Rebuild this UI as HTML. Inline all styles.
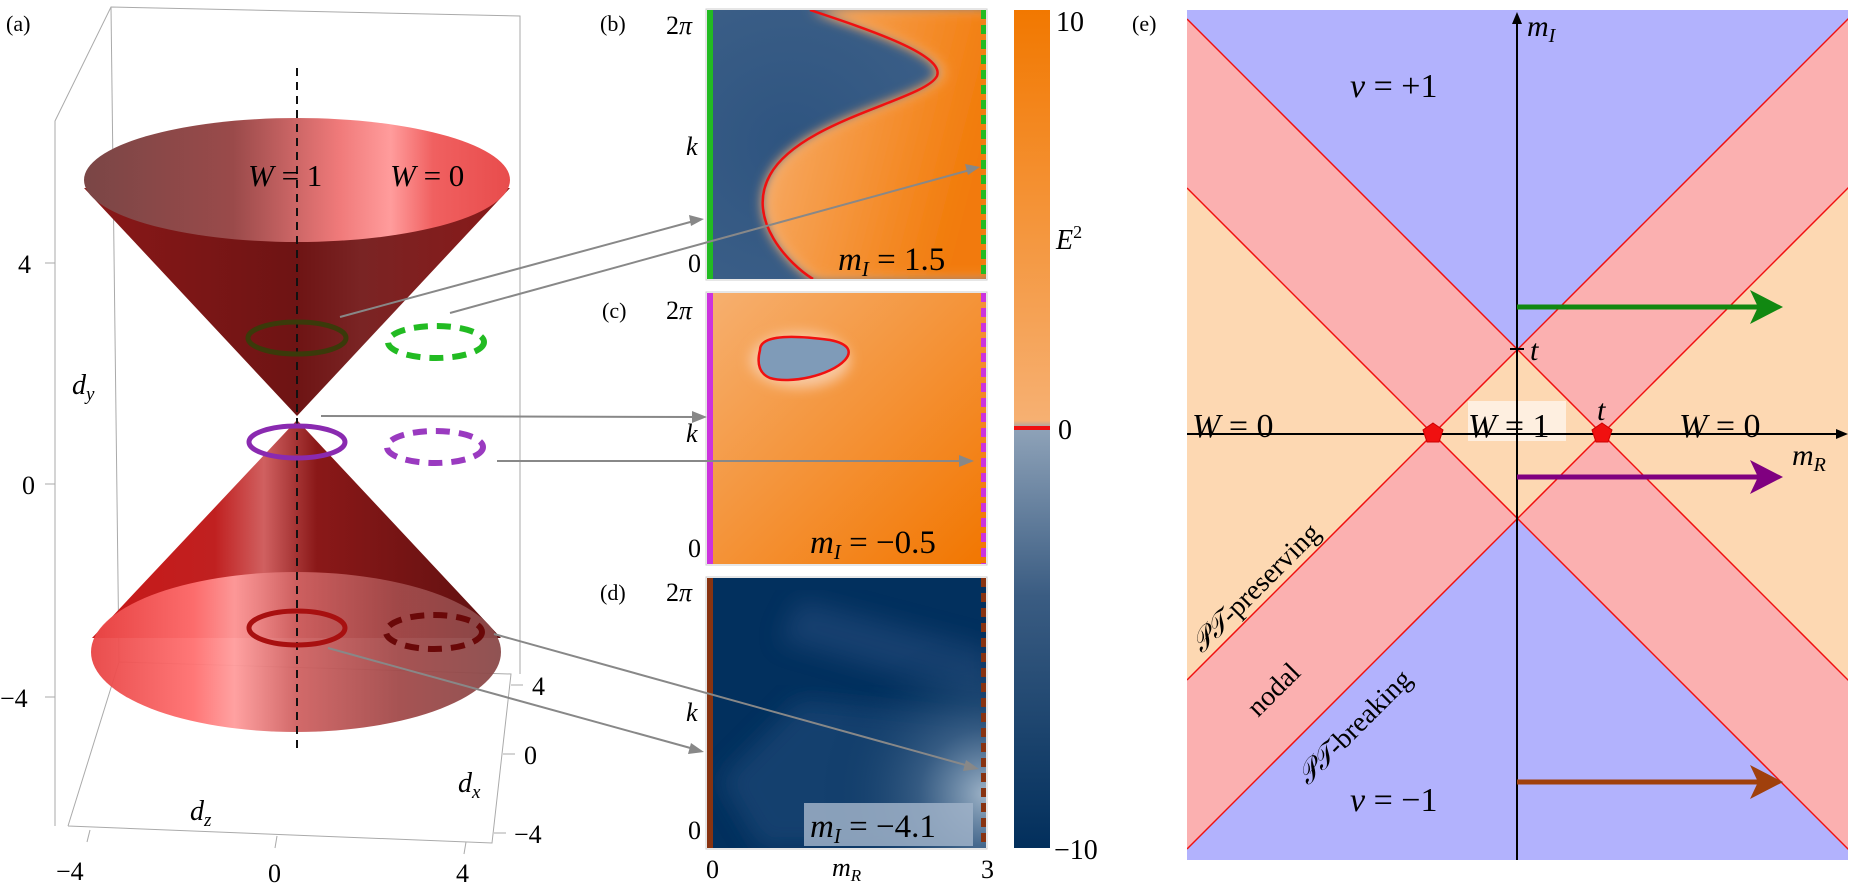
<!DOCTYPE html>
<html><head><meta charset="utf-8"><style>
body{margin:0;background:#fff}
svg{display:block}
text{font-family:"Liberation Serif",serif;fill:#000}
.m{font-style:italic}
</style></head><body>
<svg width="1850" height="884" viewBox="0 0 1850 884" xmlns="http://www.w3.org/2000/svg">
<defs>
<linearGradient id="topdisc" x1="0" x2="1" y1="0" y2="0">
<stop offset="0" stop-color="#7a4646"/><stop offset="0.35" stop-color="#9a4a4a"/><stop offset="0.6" stop-color="#f07a7a"/><stop offset="0.72" stop-color="#ff9c9c"/><stop offset="0.82" stop-color="#f06060"/><stop offset="1" stop-color="#e84c4c"/></linearGradient>
<linearGradient id="topcone" x1="0" x2="1"><stop offset="0" stop-color="#8a1818"/><stop offset="0.5" stop-color="#6e1414"/><stop offset="0.65" stop-color="#7a2424"/><stop offset="1" stop-color="#881818"/></linearGradient>
<linearGradient id="botcone" x1="0" x2="1"><stop offset="0" stop-color="#c81818"/><stop offset="0.3" stop-color="#c02020"/><stop offset="0.42" stop-color="#d06060"/><stop offset="0.55" stop-color="#8a1818"/><stop offset="1" stop-color="#5e1010"/></linearGradient>
<linearGradient id="botdisc" x1="0" x2="1"><stop offset="0" stop-color="#e84444"/><stop offset="0.25" stop-color="#ff7070"/><stop offset="0.35" stop-color="#ff9c9c"/><stop offset="0.5" stop-color="#d06262"/><stop offset="0.75" stop-color="#a24a4a"/><stop offset="1" stop-color="#8a4a4a"/></linearGradient>
<linearGradient id="cbar" x1="0" x2="0" y1="0" y2="1"><stop offset="0" stop-color="#f27800"/><stop offset="0.49" stop-color="#f6b072"/><stop offset="0.5" stop-color="#8ea2b8"/><stop offset="0.7" stop-color="#3a5c82"/><stop offset="1" stop-color="#022f5c"/></linearGradient>
<linearGradient id="orgB" x1="0" x2="1" y1="0" y2="0.3"><stop offset="0" stop-color="#f7b070"/><stop offset="1" stop-color="#f27a08"/></linearGradient>
<linearGradient id="orgC" x1="0" x2="1" y1="0" y2="1"><stop offset="0" stop-color="#f6b070"/><stop offset="1" stop-color="#f27600"/></linearGradient>
<radialGradient id="blueB" cx="0.3" cy="0.5" r="0.7"><stop offset="0" stop-color="#2e5480"/><stop offset="1" stop-color="#3d6088"/></radialGradient>
<radialGradient id="dglow" cx="1" cy="0.8" r="0.6"><stop offset="0" stop-color="#9fb4c8"/><stop offset="0.4" stop-color="#3e6288" stop-opacity="0.8"/><stop offset="1" stop-color="#02305e" stop-opacity="0"/></radialGradient>
<filter id="bl" x="-20%" y="-20%" width="140%" height="140%"><feGaussianBlur stdDeviation="6"/></filter>
<filter id="bl2"><feGaussianBlur stdDeviation="12"/></filter>
<clipPath id="cb"><rect x="707" y="10" width="279" height="269"/></clipPath>
<clipPath id="cc"><rect x="707" y="293" width="279" height="271"/></clipPath>
<clipPath id="cd"><rect x="707" y="578" width="279" height="270"/></clipPath>
<clipPath id="ce"><rect x="1187" y="10" width="661" height="850"/></clipPath>
</defs>

<!-- Panel a box -->
<g stroke="#aaa" stroke-width="1" fill="none">
<polyline points="55,826 55,121 111,7 520,16 520,674"/>
<line x1="111" y1="7" x2="119" y2="662"/>
<polyline points="68,826 119,662 511,674 492,843 68,826"/>
<line x1="55" y1="263" x2="45" y2="263"/><line x1="55" y1="484" x2="45" y2="484"/><line x1="55" y1="697" x2="45" y2="697"/>
<line x1="90" y1="830" x2="87" y2="842"/><line x1="277" y1="836" x2="275" y2="848"/><line x1="466" y1="842" x2="464" y2="854"/>
<line x1="511" y1="685" x2="523" y2="685"/><line x1="503" y1="754" x2="515" y2="754"/><line x1="494" y1="833" x2="506" y2="833"/>
</g>
<text x="6" y="31" font-size="22">(a)</text>
<text x="18" y="273" font-size="26">4</text>
<text x="22" y="494" font-size="26">0</text>
<text x="0" y="707" font-size="26">−4</text>
<text x="56" y="880" font-size="26">−4</text>
<text x="268" y="882" font-size="26">0</text>
<text x="456" y="882" font-size="26">4</text>
<text x="532" y="695" font-size="26">4</text>
<text x="524" y="764" font-size="26">0</text>
<text x="514" y="843" font-size="26">−4</text>
<text x="72" y="394" font-size="28" class="m">d<tspan font-size="19" dy="6">y</tspan></text>
<text x="190" y="820" font-size="28" class="m">d<tspan font-size="19" dy="6">z</tspan></text>
<text x="458" y="792" font-size="28" class="m">d<tspan font-size="19" dy="6">x</tspan></text>

<!-- cones -->
<path d="M84,188 L297,416 L510,188 Z" fill="url(#topcone)"/>
<ellipse cx="297" cy="180" rx="213" ry="62" fill="url(#topdisc)"/>
<path d="M297,420 L92,638 L501,638 Z" fill="url(#botcone)"/>
<ellipse cx="296" cy="652" rx="205" ry="80" fill="url(#botdisc)" opacity="0.95"/>
<line x1="297" y1="68" x2="297" y2="750" stroke="#111" stroke-width="2" stroke-dasharray="8,6"/>
<text x="248" y="186" font-size="31"><tspan class="m">W</tspan> = 1</text>
<text x="390" y="186" font-size="31"><tspan class="m">W</tspan> = 0</text>
<!-- rings -->
<ellipse cx="297" cy="338" rx="49" ry="16" fill="none" stroke="#3a3a0a" stroke-width="5"/>
<ellipse cx="436" cy="342" rx="48" ry="16" fill="none" stroke="#22bb22" stroke-width="6" stroke-dasharray="14,9"/>
<ellipse cx="297" cy="442" rx="48" ry="16" fill="none" stroke="#8a2ab0" stroke-width="5"/>
<ellipse cx="435" cy="447" rx="48" ry="16" fill="none" stroke="#9a3ac0" stroke-width="6" stroke-dasharray="14,9"/>
<ellipse cx="297" cy="628" rx="48" ry="17" fill="none" stroke="#a81010" stroke-width="5"/>
<ellipse cx="434" cy="632" rx="48" ry="17" fill="none" stroke="#6a0808" stroke-width="6" stroke-dasharray="14,9"/>

<!-- Panel b -->
<g clip-path="url(#cb)">
<rect x="707" y="10" width="279" height="269" fill="url(#blueB)"/>
<path d="M810,10 C870,30 945,55 937,76 C925,100 800,120 770,175 C745,220 790,265 813,279 L990,279 L990,10 Z" fill="#f6b47a" filter="url(#bl)"/>
<path d="M810,10 C870,30 945,55 937,76 C925,100 800,120 770,175 C745,220 790,265 813,279 L990,279 L990,10 Z" fill="url(#orgB)" transform="translate(6,0)" filter="url(#bl)"/>
<path d="M810,10 C870,30 945,55 937,76 C925,100 800,120 770,175 C745,220 790,265 813,279" fill="none" stroke="#f01010" stroke-width="2.5"/>
</g>
<rect x="707" y="10" width="6" height="269" fill="#22bb22"/>
<line x1="983.5" y1="10" x2="983.5" y2="279" stroke="#22bb22" stroke-width="5" stroke-dasharray="9,6"/>
<rect x="706" y="9" width="281" height="271" fill="none" stroke="#ccc"/>
<!-- Panel c -->
<g clip-path="url(#cc)">
<rect x="707" y="293" width="279" height="271" fill="url(#orgC)"/>
<ellipse cx="800" cy="360" rx="50" ry="28" fill="#f8c8a0" filter="url(#bl)"/>
<path d="M760,350 C760,333 800,336 830,340 C850,344 852,352 845,360 C830,376 790,384 770,378 C758,373 757,362 760,350 Z" fill="#7f9bb8" stroke="#f01010" stroke-width="2.5"/>
</g>
<rect x="707" y="293" width="6" height="271" fill="#cc33dd"/>
<line x1="983.5" y1="293" x2="983.5" y2="564" stroke="#cc33dd" stroke-width="5" stroke-dasharray="9,6"/>
<rect x="706" y="292" width="281" height="273" fill="none" stroke="#ccc"/>
<!-- Panel d -->
<g clip-path="url(#cd)">
<rect x="707" y="578" width="279" height="270" fill="#02305e"/>
<path d="M800,600 L990,650 L990,700 L780,640 Z" fill="#2a5080" opacity="0.5" filter="url(#bl2)"/>
<path d="M720,780 L800,700 L990,720 L990,848 L760,848 Z" fill="#1e4676" opacity="0.7" filter="url(#bl2)"/>
<rect x="707" y="578" width="279" height="270" fill="url(#dglow)"/>
<rect x="804" y="803" width="169" height="43" fill="#9fb2c8" opacity="0.85"/>
</g>
<rect x="707" y="578" width="6" height="270" fill="#883311"/>
<line x1="983.5" y1="578" x2="983.5" y2="848" stroke="#883311" stroke-width="5" stroke-dasharray="9,6"/>
<rect x="706" y="577" width="281" height="272" fill="none" stroke="#ccc"/>

<text x="600" y="31" font-size="22">(b)</text>
<text x="602" y="318" font-size="22">(c)</text>
<text x="600" y="600" font-size="22">(d)</text>
<g font-size="26">
<text x="666" y="34">2<tspan class="m">π</tspan></text><text x="686" y="155" class="m">k</text><text x="688" y="272">0</text>
<text x="666" y="319">2<tspan class="m">π</tspan></text><text x="686" y="442" class="m">k</text><text x="688" y="557">0</text>
<text x="666" y="601">2<tspan class="m">π</tspan></text><text x="686" y="721" class="m">k</text><text x="688" y="839">0</text>
<text x="706" y="878">0</text><text x="832" y="876" class="m">m<tspan font-size="17" dy="5">R</tspan></text><text x="981" y="878">3</text>
</g>
<g font-size="33">
<text x="838" y="270" class="m">m<tspan font-size="21" dy="6">I</tspan><tspan dy="-6" font-style="normal"> = 1.5</tspan></text>
<text x="810" y="553" class="m">m<tspan font-size="21" dy="6">I</tspan><tspan dy="-6" font-style="normal"> = −0.5</tspan></text>
<text x="810" y="837" class="m">m<tspan font-size="21" dy="6">I</tspan><tspan dy="-6" font-style="normal"> = −4.1</tspan></text>
</g>

<!-- arrows -->
<g stroke="#888" stroke-width="2" fill="none">
<line x1="340" y1="317" x2="694" y2="221"/>
<line x1="450" y1="313" x2="970" y2="170"/>
<line x1="321" y1="416" x2="697" y2="417"/>
<line x1="497" y1="461" x2="964" y2="461"/>
<line x1="494" y1="634" x2="969" y2="766"/>
<line x1="328" y1="648" x2="694" y2="749"/>
</g>
<g fill="#888">
<polygon points="704,219 689,215 691,226"/>
<polygon points="980,167 965,164 968,175"/>
<polygon points="707,417 692,411 692,423"/>
<polygon points="974,461 959,455 959,467"/>
<polygon points="979,769 966,760 963,771"/>
<polygon points="704,752 691,743 688,754"/>
</g>

<!-- colorbar -->
<rect x="1014" y="10" width="36" height="838" fill="url(#cbar)"/>
<rect x="1014" y="426" width="36" height="4" fill="#f01010"/>
<g font-size="28">
<text x="1056" y="31">10</text>
<text x="1056" y="249" class="m">E<tspan font-size="18" dy="-11" font-style="normal">2</tspan></text>
<text x="1058" y="439">0</text>
<text x="1054" y="859">−10</text>
</g>

<!-- Panel e -->
<text x="1132" y="31" font-size="22">(e)</text>
<g clip-path="url(#ce)">
<rect x="1187" y="10" width="661" height="850" fill="#fdd8b2"/>
<polygon points="1187,10 1848,10 1848,19 1517,350 1187,19" fill="#b2b2fd"/>
<polygon points="1187,860 1187,849 1517,518 1848,849 1848,860" fill="#b2b2fd"/>
<path fill-rule="evenodd" fill="#fbb0b0" d="M1187,19 L1187,188 L1859,860 L2028,860 Z M1187,680 L1187,849 L2036,0 L1867,0 Z"/>
<g stroke="#f01010" stroke-width="1.5">
<line x1="1187" y1="19" x2="2028" y2="860"/>
<line x1="1187" y1="188" x2="1859" y2="860"/>
<line x1="1187" y1="680" x2="1867" y2="0"/>
<line x1="1187" y1="849" x2="2036" y2="0"/>
</g>
</g>
<rect x="1468" y="401" width="98" height="40" fill="#fff" opacity="0.6"/>
<g stroke="#000" stroke-width="2">
<line x1="1517" y1="860" x2="1517" y2="20"/>
<line x1="1187" y1="434" x2="1840" y2="434"/>
<line x1="1510" y1="349" x2="1524" y2="349"/>
</g>
<polygon points="1517,12 1512,24 1522,24"/>
<polygon points="1848,434 1836,429 1836,439"/>
<polygon points="1433,423 1443,430 1439,442 1427,442 1423,430" fill="#f01010" stroke="#c00" stroke-width="1"/>
<polygon points="1602,423 1612,430 1608,442 1596,442 1592,430" fill="#f01010" stroke="#c00" stroke-width="1"/>
<g stroke-width="5">
<line x1="1517" y1="307" x2="1760" y2="307" stroke="#118811"/>
<line x1="1517" y1="477" x2="1760" y2="477" stroke="#800080"/>
<line x1="1517" y1="782" x2="1760" y2="782" stroke="#a0400c"/>
</g>
<path d="M1783,307 L1750,290 L1758,307 L1750,324 Z" fill="#118811"/>
<path d="M1783,477 L1750,460 L1758,477 L1750,494 Z" fill="#800080"/>
<path d="M1783,782 L1750,765 L1758,782 L1750,799 Z" fill="#a0400c"/>
<g font-size="34">
<text x="1350" y="97" class="m">ν<tspan font-style="normal"> = +1</tspan></text>
<text x="1350" y="811" class="m">ν<tspan font-style="normal"> = −1</tspan></text>
<text x="1527" y="36" font-size="30" class="m">m<tspan font-size="20" dy="6">I</tspan></text>
<text x="1792" y="465" font-size="30" class="m">m<tspan font-size="20" dy="6">R</tspan></text>
<text x="1192" y="437" class="m">W<tspan font-style="normal"> = 0</tspan></text>
<text x="1468" y="437" class="m">W<tspan font-style="normal"> = 1</tspan></text>
<text x="1679" y="437" class="m">W<tspan font-style="normal"> = 0</tspan></text>
<text x="1530" y="360" font-size="30" class="m">t</text>
<text x="1597" y="420" font-size="30" class="m">t</text>
</g>
<g font-size="28">
<text transform="translate(1202,654) rotate(-45)"><tspan class="m">𝒫𝒯</tspan>-preserving</text>
<text transform="translate(1258,718) rotate(-45)">nodal</text>
<text transform="translate(1308,786) rotate(-45)"><tspan class="m">𝒫𝒯</tspan>-breaking</text>
</g>
</svg>
</body></html>
